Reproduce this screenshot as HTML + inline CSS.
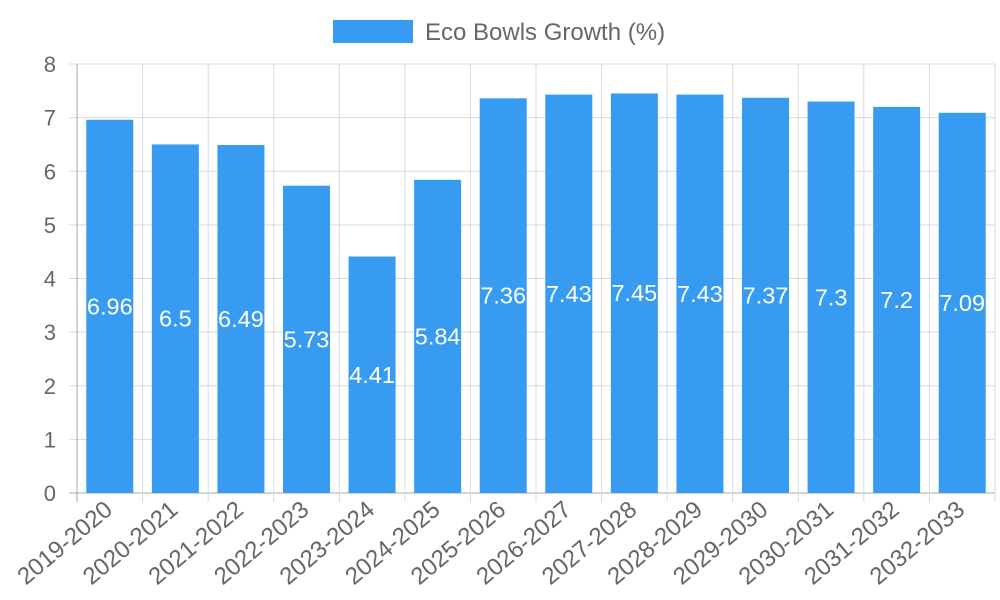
<!DOCTYPE html>
<html><head><meta charset="utf-8"><style>
body{margin:0;background:#fff;}
svg{display:block;font-family:"Liberation Sans",sans-serif;}
</style></head><body>
<svg id="chart" width="1000" height="600">
<g>
<rect x="333" y="20" width="80" height="23" fill="#379cf1"/>
<text x="425" y="40" font-size="24" fill="#666">Eco Bowls Growth (%)</text>
</g>
</svg>
<script>
const categories=["2019-2020","2020-2021","2021-2022","2022-2023","2023-2024","2024-2025","2025-2026","2026-2027","2027-2028","2028-2029","2029-2030","2030-2031","2031-2032","2032-2033"];
const values=[6.96,6.5,6.49,5.73,4.41,5.84,7.36,7.43,7.45,7.43,7.37,7.3,7.2,7.09];
const yTicks=[0,1,2,3,4,5,6,7,8];
const svg=document.getElementById('chart');
const NS='http://www.w3.org/2000/svg';
const L=77,R=995,T=64,B=493,yMax=8;
const bandW=(R-L)/categories.length;
const y=v=>B-(v/yMax)*(B-T);
const x=i=>L+i*bandW;
function mk(tag,attrs){const e=document.createElementNS(NS,tag);for(const k in attrs)e.setAttribute(k,attrs[k]);svg.appendChild(e);return e;}
yTicks.forEach(t=>{
  const g=mk('line',{x1:L-8,x2:R,y1:y(t),y2:y(t),stroke:t===0?'#aaa':'#d9d9d9','stroke-width':1});
  
  
  const lb=mk('text',{x:56,y:y(t)+8,'text-anchor':'end','font-size':22,fill:'#666'});
  lb.textContent=t;
  
  
});
for(let i=0;i<=categories.length;i++){
  const g=mk('line',{x1:x(i),x2:x(i),y1:T,y2:B+9,stroke:i===0?'#aaa':'#d9d9d9','stroke-width':1});
  
  
}
categories.forEach((c,i)=>{
  const cx=x(i)+bandW/2,bw=47;
  const r=mk('rect',{x:cx-bw/2,y:y(values[i]),width:bw,height:B-y(values[i]),fill:'#379cf1'});
  
  
  const v=mk('text',{x:cx,y:(y(values[i])+B)/2+8,'text-anchor':'middle','font-size':23.5,fill:'#fff'});
  v.textContent=values[i];
  
  
  const lb=mk('text',{x:cx+4,y:B+19,'text-anchor':'end','font-size':24,fill:'#666',transform:`rotate(-40 ${cx+4} ${B+19})`});
  lb.textContent=c;
  
  
});
</script>
</body></html>
